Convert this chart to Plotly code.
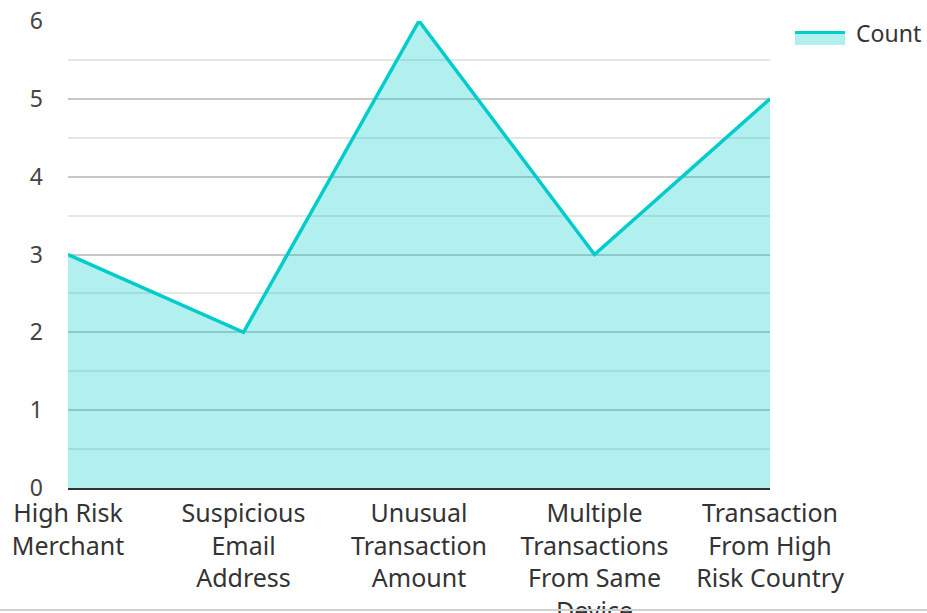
import plotly.graph_objects as go

categories = ["High Risk<br>Merchant", "Suspicious<br>Email<br>Address", "Unusual<br>Transaction<br>Amount",
              "Multiple<br>Transactions<br>From Same<br>Device", "Transaction<br>From High<br>Risk Country"]
counts = [3, 2, 6, 3, 5]
y_ticks = [0, 1, 2, 3, 4, 5, 6]
series_name = "Count"

W, H = 927, 613
L, T = 68, 21
R = W - 770
B = H - 488
pw, ph = W - L - R, H - T - B


def px_x(p):
    return (p - L) / pw


def px_y(p):
    return (H - B - p) / ph


fig = go.Figure()
fig.add_trace(go.Scatter(
    x=list(range(len(categories))), y=counts, name=series_name, mode="lines",
    fill="tozeroy", fillcolor="rgba(0,204,204,0.30)",
    line=dict(color="#00cccc", width=3.5), showlegend=False, hoverinfo="skip",
))

fig.update_layout(
    width=W, height=H,
    margin=dict(l=L, r=R, t=T, b=B, autoexpand=False),
    paper_bgcolor="white", plot_bgcolor="white",
    font=dict(family="Noto Sans", size=25, color="#333333"),
    showlegend=False,
    xaxis=dict(
        range=[0, len(categories) - 1], tickmode="array",
        tickvals=list(range(len(categories))), ticktext=categories,
        showgrid=False, zeroline=False, automargin=False,
        showline=True, linecolor="#333333", linewidth=2,
        ticks="", ticklabelstandoff=2, ticklabeloverflow="allow",
        tickfont=dict(size=25, color="#333333"),
    ),
    yaxis=dict(
        range=[0, 6], tickmode="array", tickvals=y_ticks, automargin=False,
        showgrid=True, gridcolor="#c8c8c8", gridwidth=1.5,
        minor=dict(dtick=0.5, showgrid=True, gridcolor="#e6e6e6", gridwidth=1.5),
        zeroline=False, showline=False, ticks="",
        ticklabelstandoff=24, ticklabeloverflow="allow",
        tickfont=dict(size=23, color="#444444"),
    ),
)

# legend swatch + label
fig.add_shape(type="rect", xref="paper", yref="paper",
              x0=px_x(795), x1=px_x(845), y0=px_y(45), y1=px_y(31),
              fillcolor="rgba(0,204,204,0.30)", line=dict(width=0), layer="above")
fig.add_shape(type="line", xref="paper", yref="paper",
              x0=px_x(795), x1=px_x(845), y0=px_y(32.5), y1=px_y(32.5),
              line=dict(color="#00cccc", width=3), layer="above")
fig.add_annotation(xref="paper", yref="paper", x=px_x(854), y=px_y(33),
                   xanchor="left", yanchor="middle", text=series_name, showarrow=False,
                   font=dict(size=23, color="#333333"))

fig.add_shape(type="line", xref="paper", yref="paper", x0=-0.2, x1=1.3,
              y0=px_y(610), y1=px_y(610), line=dict(color="#d0d0d0", width=2))

fig.write_html(
    "out.html",
    config={"displayModeBar": False},
    post_script="document.body.style.margin='0';document.body.style.overflow='hidden';",
)
